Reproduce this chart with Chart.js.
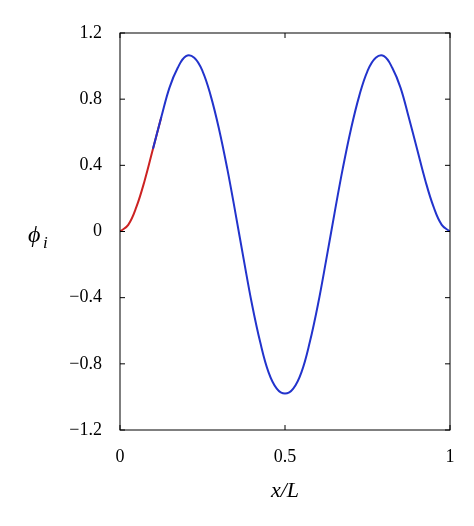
<!DOCTYPE html>
<html><head><script src="https://cdn.jsdelivr.net/npm/chart.js@4"></script>
<style>body{margin:0;background:#fff}#w{width:474px;height:526px}</style></head>
<body><div id="w"><canvas id="c"></canvas></div>
<script>
const xs=[0,0.025,0.05,0.075,0.1,0.125,0.15,0.175,0.2,0.225,0.25,0.275,0.3,0.325,0.35,0.375,0.4,0.425,0.45,0.475,0.5,0.525,0.55,0.575,0.6,0.625,0.65,0.675,0.7,0.725,0.75,0.775,0.8,0.825,0.85,0.875,0.9,0.925,0.95,0.975,1];
const ys=[0,0.04,0.15,0.31,0.5,0.69,0.87,0.99,1.06,1.05,0.97,0.82,0.62,0.38,0.11,-0.17,-0.44,-0.67,-0.85,-0.95,-0.98,-0.95,-0.85,-0.67,-0.44,-0.17,0.11,0.38,0.62,0.82,0.97,1.05,1.06,0.99,0.87,0.69,0.5,0.31,0.15,0.04,0];
const redEnd=4;
const yTicks=[-1.2,-0.8,-0.4,0,0.4,0.8,1.2];
const xTicks=[0,0.5,1];
const blue=xs.map((x,i)=>i>=redEnd?{x,y:ys[i]}:null).filter(p=>p);
const red=xs.map((x,i)=>i<=redEnd+1?{x,y:ys[i]}:null).filter(p=>p);
const F='"Liberation Serif", serif';
const deco={id:'deco',afterDraw(c){const g=c.ctx,a=c.chartArea,sx=c.scales.x,sy=c.scales.y;
g.save();g.strokeStyle='#000';g.lineWidth=1;g.strokeRect(a.left,a.top,a.right-a.left,a.bottom-a.top);
g.beginPath();yTicks.forEach(v=>{const p=sy.getPixelForValue(v);g.moveTo(a.left,p);g.lineTo(a.left+5,p);g.moveTo(a.right,p);g.lineTo(a.right-5,p);});
xTicks.forEach(v=>{const p=sx.getPixelForValue(v);g.moveTo(p,a.bottom);g.lineTo(p,a.bottom-5);g.moveTo(p,a.top);g.lineTo(p,a.top+5);});g.stroke();
g.fillStyle='#000';g.font='italic 24px '+F;g.textAlign='left';g.textBaseline='middle';
g.fillText('\u03D5',28,sy.getPixelForValue(0)+4);g.font='italic 17px '+F;g.fillText('i',43,sy.getPixelForValue(0)+12);
g.textAlign='center';g.font='italic 22px '+F;g.fillText('x/L',(a.left+a.right)/2,491);g.restore();}};
new Chart(document.getElementById('c'),{type:'line',
data:{datasets:[{data:blue,borderColor:'#2233cc',borderWidth:2,pointRadius:0,tension:0.4},
{data:red,borderColor:'#cc2222',borderWidth:2,pointRadius:0,tension:0.4}]},
options:{responsive:true,maintainAspectRatio:false,animation:false,layout:{padding:{top:33,right:24,left:0,bottom:0}},
plugins:{legend:{display:false},tooltip:{enabled:false}},
scales:{x:{type:'linear',min:0,max:1,afterFit:s=>{s.height=96},afterBuildTicks:s=>{s.ticks=xTicks.map(v=>({value:v}))},
grid:{display:false},border:{display:false},ticks:{color:'#000',font:{family:F,size:18},padding:8,callback:v=>String(v)}},
y:{min:-1.2,max:1.2,afterFit:s=>{s.width=120},afterBuildTicks:s=>{s.ticks=yTicks.map(v=>({value:v}))},
grid:{display:false},border:{display:false},ticks:{color:'#000',font:{family:F,size:18},padding:10,callback:v=>(v<0?'\u2212':'')+Math.abs(v).toFixed(v===0?0:1)}}}},
plugins:[deco]});
</script></body></html>
